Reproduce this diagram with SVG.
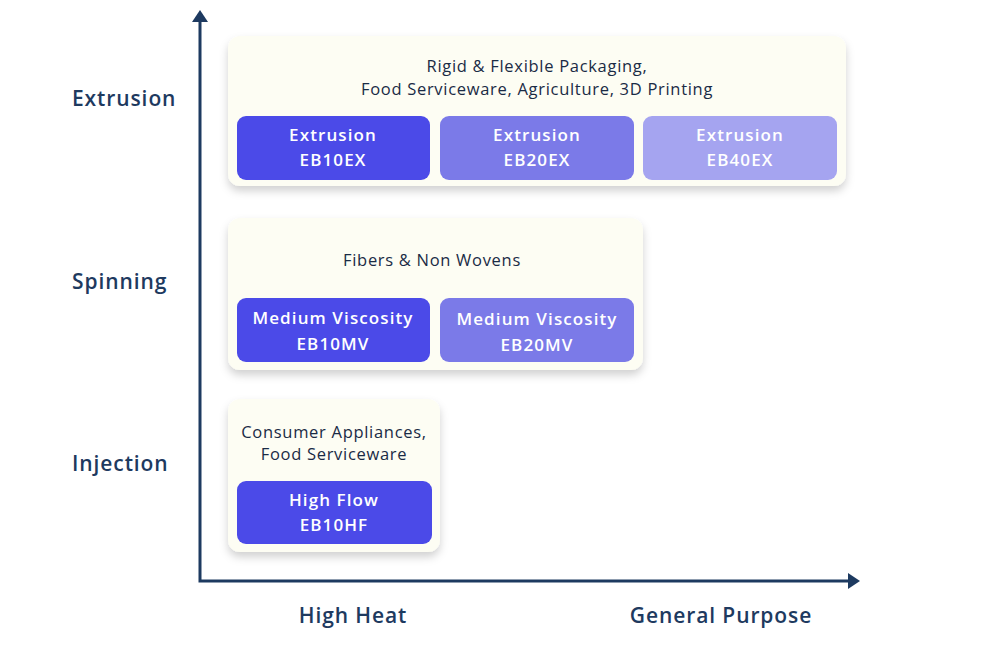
<svg xmlns="http://www.w3.org/2000/svg" width="984" height="646" viewBox="0 0 984 646">
<defs>
<filter id="sh" x="-10%" y="-10%" width="120%" height="130%">
<feDropShadow dx="0" dy="5" stdDeviation="4" flood-color="#000" flood-opacity="0.18"/>
</filter>
<style>
.panel{fill:#fdfdf3;filter:url(#sh)}
.b1{fill:#4b4ae8}.b2{fill:#7b7ae8}.b3{fill:#a5a4f0}
.bt{font-family:"Open Sans","Liberation Sans",sans-serif;font-size:17px;font-weight:600;letter-spacing:1.1px;fill:#ffffff;text-anchor:middle}
.ht{font-family:"Open Sans","Liberation Sans",sans-serif;font-size:16.5px;letter-spacing:0.7px;fill:#1a2b45;text-anchor:middle}
.ax{font-family:"Open Sans","Liberation Sans",sans-serif;font-size:21px;font-weight:600;letter-spacing:0.9px;fill:#1e3a5f}
.axl{stroke:#1d3a60;stroke-width:3;fill:none}
</style>
</defs>
<rect width="984" height="646" fill="#ffffff"/>
<g id="connectors">
<path class="axl" d="M200,20 L200,581 L850,581"/>
<path d="M192,22 L200,10 L208,22 Z" fill="#1d3a60"/>
<path d="M848,573 L860,581 L848,589 Z" fill="#1d3a60"/>
</g>
<g id="axis-labels">
<text class="ax" x="72" y="106">Extrusion</text>
<text class="ax" x="72" y="289">Spinning</text>
<text class="ax" x="72" y="471">Injection</text>
<text class="ax" x="353" y="623" text-anchor="middle">High Heat</text>
<text class="ax" x="721" y="623" text-anchor="middle">General Purpose</text>
</g>
<g id="extrusion-panel">
<rect class="panel" x="228" y="36" width="618" height="150" rx="12"/>
<text class="ht" x="537" y="72">Rigid &amp; Flexible Packaging,</text>
<text class="ht" x="537" y="95">Food Serviceware, Agriculture, 3D Printing</text>
</g>
<g id="eb10ex">
<rect class="b1" x="237" y="116" width="193" height="64" rx="9"/>
<text class="bt" x="333" y="141">Extrusion</text>
<text class="bt" x="333" y="166">EB10EX</text>
</g>
<g id="eb20ex">
<rect class="b2" x="440" y="116" width="194" height="64" rx="9"/>
<text class="bt" x="537" y="141">Extrusion</text>
<text class="bt" x="537" y="166">EB20EX</text>
</g>
<g id="eb40ex">
<rect class="b3" x="643" y="116" width="194" height="64" rx="9"/>
<text class="bt" x="740" y="141">Extrusion</text>
<text class="bt" x="740" y="166">EB40EX</text>
</g>
<g id="spinning-panel">
<rect class="panel" x="228" y="218" width="415" height="152" rx="12"/>
<text class="ht" x="432" y="266">Fibers &amp; Non Wovens</text>
</g>
<g id="eb10mv">
<rect class="b1" x="237" y="298" width="193" height="64" rx="9"/>
<text class="bt" x="333" y="324">Medium Viscosity</text>
<text class="bt" x="333" y="350">EB10MV</text>
</g>
<g id="eb20mv">
<rect class="b2" x="440" y="298" width="194" height="64" rx="9"/>
<text class="bt" x="537" y="325">Medium Viscosity</text>
<text class="bt" x="537" y="351">EB20MV</text>
</g>
<g id="injection-panel">
<rect class="panel" x="228" y="399" width="212" height="153" rx="12"/>
<text class="ht" x="334" y="438">Consumer Appliances,</text>
<text class="ht" x="334" y="460">Food Serviceware</text>
</g>
<g id="eb10hf">
<rect class="b1" x="237" y="481" width="195" height="63" rx="9"/>
<text class="bt" x="334" y="506">High Flow</text>
<text class="bt" x="334" y="531">EB10HF</text>
</g>
</svg>
